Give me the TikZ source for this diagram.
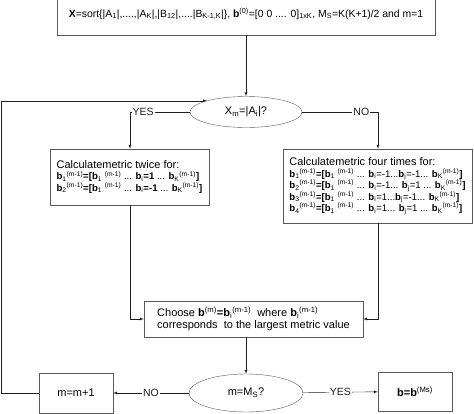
\documentclass[tikz,border=0pt]{standalone}
\usepackage[usenames,dvipsnames]{xcolor}
\usepackage{fontspec}
\setmainfont{Liberation Sans}
\usepackage{tikz}
\usetikzlibrary{arrows,shapes.geometric}
\newcommand{\dnx}[1]{\textsubscript{#1}}
\newcommand{\upx}[1]{\textsuperscript{#1}}
\newcommand{\fml}{\fontsize{9.6}{10.2}\selectfont}
\tikzset{
  stepbox/.style={draw=black!65, rectangle, align=left, inner sep=2pt, font=\fontsize{11}{11.5}\selectfont},
  testnode/.style={draw=black!65, ellipse, inner sep=0pt, font=\fontsize{11}{11.5}\selectfont},
  flow/.style={-latex, color=black!88},
  lbl/.style={fill=white, inner sep=1pt, font=\fontsize{10.5}{11}\selectfont}
}

\begin{document}
\begin{tikzpicture}[x=1pt,y=-1pt]
    \useasboundingbox (0,0) rectangle (474,413);
    \draw (246,14) node[stepbox,font=\fontsize{10.4}{11}\selectfont,minimum width=378pt,minimum height=42pt] (init)
      {\textbf{X}=sort\{|A\dnx{1}|,....,|A\dnx{K}|,|B\dnx{12}|,....|B\dnx{K-1,K}|\}, \textbf{b}\upx{(0)}=[0 0 .... 0]\dnx{1xK}, M\dnx{S}=K(K+1)/2 and m=1};
    \draw (246,112) node[testnode,minimum width=112pt,minimum height=31pt] (qa) {X\dnx{m}=|A\dnx{i}|?};

    \draw (129.5,177) node[stepbox,minimum width=159pt,minimum height=56pt] (twice)
      {Calculatemetric twice for:\\
       \fml\textbf{b}\dnx{1}\upx{(m-1)}\textbf{=[b}\dnx{1} \upx{(m-1)} ... \textbf{b}\dnx{i}\textbf{=1} ... \textbf{b}\dnx{K}\upx{(m-1)}\textbf{]}\\
       \fml\textbf{b}\dnx{2}\upx{(m-1)}\textbf{=[b}\dnx{1} \upx{(m-1)} ... \textbf{b}\dnx{i}\textbf{=-1} ... \textbf{b}\dnx{K}\upx{(m-1)}\textbf{]}};
    \draw (377.5,186) node[stepbox,minimum width=189pt,minimum height=74pt] (four)
      {Calculatemetric four times for:\\
       \fml\textbf{b}\dnx{1}\upx{(m-1)}\textbf{=[b}\dnx{1} \upx{(m-1)} ... \textbf{b}\dnx{i}=-1...\textbf{b}\dnx{j}=-1... \textbf{b}\dnx{K}\upx{(m-1)}\textbf{]}\\
       \fml\textbf{b}\dnx{2}\upx{(m-1)}\textbf{=[b}\dnx{1} \upx{(m-1)} ... \textbf{b}\dnx{i}=-1... \textbf{b}\dnx{j}=1 ... \textbf{b}\dnx{K}\upx{(m-1)}\textbf{]}\\
       \fml\textbf{b}\dnx{3}\upx{(m-1)}\textbf{=[b}\dnx{1} \upx{(m-1)} ... \textbf{b}\dnx{i}=1...\textbf{b}\dnx{j}=-1... \textbf{b}\dnx{K}\upx{(m-1)}\textbf{]}\\
       \fml\textbf{b}\dnx{4}\upx{(m-1)}\textbf{=[b}\dnx{1} \upx{(m-1)} ... \textbf{b}\dnx{i}=1... \textbf{b}\dnx{j}=1 ... \textbf{b}\dnx{K}\upx{(m-1)}\textbf{]}};

    \draw (253.5,319) node[stepbox,minimum width=219pt,minimum height=36pt] (choose)
      {Choose \textbf{b}\upx{(m)}\textbf{=b}\dnx{i}\upx{(m-1)}\ \ where \textbf{b}\dnx{i}\upx{(m-1)}\\
       corresponds\ \ to the largest metric value};
    \draw (246,393) node[testnode,minimum width=114pt,minimum height=38pt] (qb) {m=M\dnx{S}?};
    \draw (76,393) node[stepbox,align=center,minimum width=74pt,minimum height=40pt] (inc) {m=m+1};
    \draw (415,391.5) node[stepbox,align=center,minimum width=74pt,minimum height=39pt] (res) {\textbf{b=b}\upx{(Ms)}};

    % top to first test
    \path[flow] (init) edge (qa);
    \draw[flow] (qa.west) -- node[lbl,pos=0.78] {YES} (130,112) -- (twice.north -| 130,0);
    \draw[flow] (qa.east) -- node[lbl,pos=0.78] {NO} (378,112) -- (four.north -| 378,0);

    % both branches into the choice
    \draw[flow] (twice.south -| 130,0) |- (choose.west);
    \draw[flow] (four.south -| 378,0) |- (choose.east);
    \path[flow] (choose.south -| qb.north) edge (qb);

    % second test
    \path[flow] (qb) edge node[lbl] {NO} (inc);
    \path[flow] (qb) edge node[lbl] {YES} (res);

    % loop back
    \coordinate (fbtop) at (1,0 |- qa.164);
    \draw[flow] (inc.west) -| (fbtop) -- (qa.164);
\end{tikzpicture}
\end{document}
